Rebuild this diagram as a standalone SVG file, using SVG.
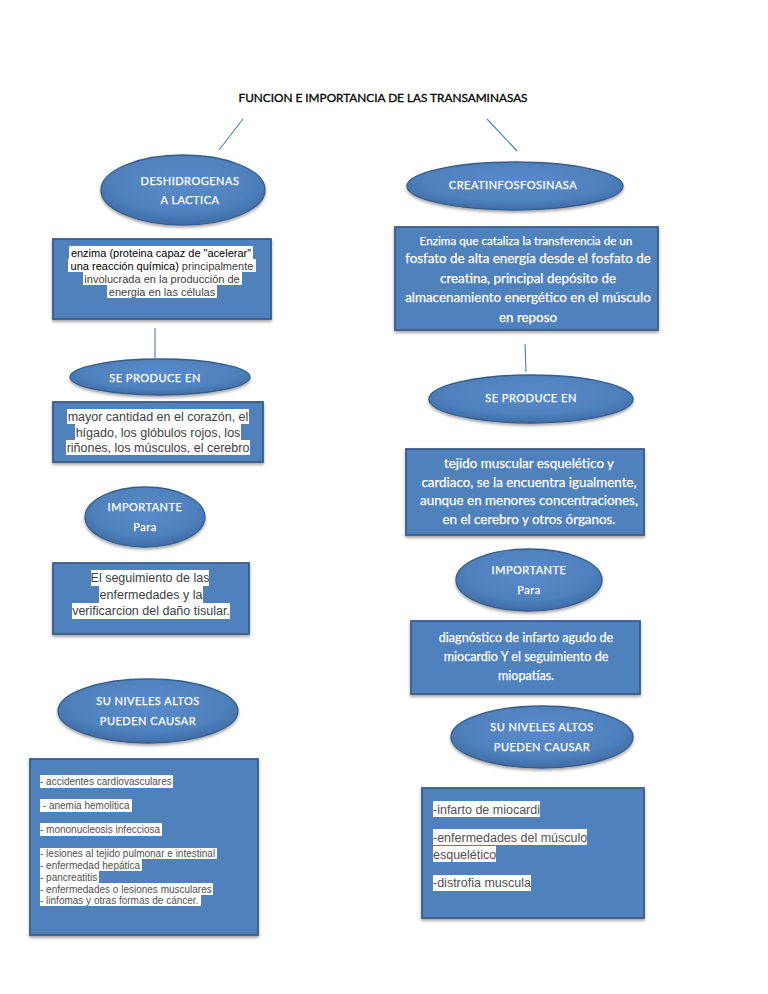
<svg xmlns="http://www.w3.org/2000/svg" width="768" height="994" viewBox="0 0 768 994">
<defs>
<radialGradient id="eg" cx="50%" cy="40%" r="60%">
<stop offset="0" stop-color="#5A8ACB"/>
<stop offset="0.7" stop-color="#4F81BD"/>
<stop offset="1" stop-color="#3F6DA8"/>
</radialGradient>
<filter id="sh" x="-10%" y="-10%" width="120%" height="130%">
<feDropShadow dx="0" dy="2" stdDeviation="1.5" flood-color="#000" flood-opacity="0.35"/>
</filter>
<style>
.ell{fill:url(#eg);stroke:#385D8A;stroke-width:1.3;filter:url(#sh)}
.box{fill:#4F81BD;stroke:#385D8A;stroke-width:1.8;filter:url(#sh)}
.conn{stroke:#4A7EBB;stroke-width:1.1;fill:none}
.et{font-family:Lato,"Open Sans",sans-serif;font-size:11px;fill:#fff;text-anchor:middle;letter-spacing:0.5px;stroke:#fff;stroke-width:0.25}
.rt{font-family:Lato,"Open Sans",sans-serif;fill:#fff;text-anchor:middle;stroke:#fff;stroke-width:0.25}
.lt{font-family:"Liberation Sans",Arial,sans-serif;fill:#404040;text-anchor:middle}
.ll{font-family:"Liberation Sans",Arial,sans-serif;fill:#505050}
.hl{fill:#fff}
.title{font-family:Lato,"Open Sans",sans-serif;font-size:11.8px;fill:#000;text-anchor:middle;stroke:#000;stroke-width:0.3}
</style>
</defs>
<rect width="768" height="994" fill="#fff"/>

<text class="title" x="383" y="102">FUNCION E IMPORTANCIA DE LAS TRANSAMINASAS</text>

<g id="connectors">
<line class="conn" x1="243" y1="119" x2="219" y2="150"/>
<line class="conn" x1="487" y1="119" x2="517" y2="151"/>
<line class="conn" x1="155" y1="328" x2="155" y2="358"/>
<line class="conn" x1="525" y1="344" x2="526" y2="372"/>
</g>

<g id="deshidrogenas">
<ellipse class="ell" cx="183" cy="190" rx="82" ry="35"/>
<text class="et" x="190" y="185">DESHIDROGENAS</text>
<text class="et" x="190" y="204">A LACTICA</text>
</g>

<g id="creatinfosfosinasa">
<ellipse class="ell" cx="515" cy="186" rx="108" ry="24"/>
<text class="et" x="513" y="189">CREATINFOSFOSINASA</text>
</g>

<g id="left-def">
<rect class="box" x="53" y="239" width="218" height="80"/>
<rect class="hl" x="69" y="246" width="184" height="13"/>
<rect class="hl" x="68" y="259" width="188" height="13"/>
<rect class="hl" x="83" y="272" width="159" height="13"/>
<rect class="hl" x="107" y="285" width="110" height="13"/>
<text class="lt" font-size="11" x="161" y="257"><tspan fill="#000">enzima (proteina capaz de "acelerar"</tspan></text>
<text class="lt" font-size="11" x="162" y="270"><tspan fill="#000">una reacción química)</tspan> principalmente</text>
<text class="lt" font-size="11" x="162" y="283">involucrada en la producción de</text>
<text class="lt" font-size="11" x="162" y="296">energia en las células</text>
</g>

<g id="left-se-produce">
<ellipse class="ell" cx="160" cy="377" rx="90" ry="18"/>
<text class="et" x="155" y="382">SE PRODUCE EN</text>
</g>

<g id="left-lugar">
<rect class="box" x="53" y="402" width="210" height="60"/>
<rect class="hl" x="67" y="409" width="182" height="15"/>
<rect class="hl" x="75" y="424" width="166" height="16"/>
<rect class="hl" x="66" y="440" width="184" height="15"/>
<text class="lt" font-size="12.5" x="158" y="421">mayor cantidad en el corazón, el</text>
<text class="lt" font-size="12.5" x="158" y="437">hígado, los glóbulos rojos, los</text>
<text class="lt" font-size="12.5" x="158" y="452">riñones, los músculos, el cerebro</text>
</g>

<g id="left-importante">
<ellipse class="ell" cx="145" cy="517" rx="60" ry="30"/>
<text class="et" x="145" y="511">IMPORTANTE</text>
<text class="et" x="145" y="531">Para</text>
</g>

<g id="left-seguimiento">
<rect class="box" x="53" y="563" width="196" height="71"/>
<rect class="hl" x="91" y="570" width="118" height="16"/>
<rect class="hl" x="99" y="586" width="104" height="17"/>
<rect class="hl" x="72" y="603" width="158" height="16"/>
<text class="lt" font-size="12.5" x="150" y="582">El seguimiento de las</text>
<text class="lt" font-size="12.5" x="151" y="599">enfermedades y la</text>
<text class="lt" font-size="12.5" x="151" y="615">verificarcion del daño tisular.</text>
</g>

<g id="left-niveles">
<ellipse class="ell" cx="148" cy="711" rx="90" ry="32"/>
<text class="et" x="148" y="705">SU NIVELES ALTOS</text>
<text class="et" x="148" y="725">PUEDEN CAUSAR</text>
</g>

<g id="left-causas">
<rect class="box" x="30" y="759" width="228" height="176"/>
<rect class="hl" x="40" y="775" width="133" height="13"/>
<rect class="hl" x="40" y="799" width="92" height="13"/>
<rect class="hl" x="40" y="823" width="122" height="13"/>
<rect class="hl" x="40" y="848" width="177" height="11"/>
<rect class="hl" x="40" y="859" width="102" height="12"/>
<rect class="hl" x="40" y="871" width="59" height="12"/>
<rect class="hl" x="40" y="883" width="173" height="12"/>
<rect class="hl" x="40" y="895" width="161" height="11"/>
<text class="ll" font-size="10"><tspan x="40" y="785">- accidentes cardiovasculares</tspan><tspan x="40" y="809"> - anemia hemolitica</tspan><tspan x="40" y="833">- mononucleosis infecciosa</tspan><tspan x="40" y="857">- lesiones al tejido pulmonar e intestinal</tspan><tspan x="40" y="868.5">- enfermedad hepática</tspan><tspan x="40" y="880.5">- pancreatitis</tspan><tspan x="40" y="892.5">- enfermedades o lesiones musculares</tspan><tspan x="40" y="904">- linfomas y otras formas de cáncer.</tspan></text>
</g>

<g id="right-def">
<rect class="box" x="395" y="227" width="263" height="103"/>
<text class="rt" font-size="11.7" x="526" y="245">Enzima que cataliza la transferencia de un</text>
<text class="rt" font-size="13.4" x="528" y="263">fosfato de alta energía desde el fosfato de</text>
<text class="rt" font-size="13.4" x="528" y="283">creatina, principal depósito de</text>
<text class="rt" font-size="13.4" x="528" y="302">almacenamiento energético en el músculo</text>
<text class="rt" font-size="13.4" x="528" y="322">en reposo</text>
</g>

<g id="right-se-produce">
<ellipse class="ell" cx="531" cy="399" rx="102" ry="24"/>
<text class="et" x="531" y="402">SE PRODUCE EN</text>
</g>

<g id="right-lugar">
<rect class="box" x="406" y="449" width="238" height="86"/>
<text class="rt" font-size="13.4" x="529" y="468">tejido muscular esquelético y</text>
<text class="rt" font-size="13.4" x="529" y="487">cardiaco, se la encuentra igualmente,</text>
<text class="rt" font-size="13.4" x="529" y="505">aunque en menores concentraciones,</text>
<text class="rt" font-size="13.4" x="529" y="524">en el cerebro y otros órganos.</text>
</g>

<g id="right-importante">
<ellipse class="ell" cx="529" cy="580" rx="73" ry="31"/>
<text class="et" x="529" y="574">IMPORTANTE</text>
<text class="et" x="529" y="594">Para</text>
</g>

<g id="right-diagnostico">
<rect class="box" x="411" y="621" width="229" height="73"/>
<text class="rt" font-size="12.6" x="526" y="642">diagnóstico de infarto agudo de</text>
<text class="rt" font-size="12.6" x="526" y="661">miocardio Y el seguimiento de</text>
<text class="rt" font-size="12.6" x="526" y="680">miopatías.</text>
</g>

<g id="right-niveles">
<ellipse class="ell" cx="542" cy="737" rx="91" ry="31"/>
<text class="et" x="542" y="731">SU NIVELES ALTOS</text>
<text class="et" x="542" y="751">PUEDEN CAUSAR</text>
</g>

<g id="right-causas">
<rect class="box" x="422" y="788" width="222" height="130"/>
<rect class="hl" x="433" y="801" width="107" height="16"/>
<rect class="hl" x="433" y="829" width="154" height="16"/>
<rect class="hl" x="433" y="846" width="63" height="16"/>
<rect class="hl" x="433" y="875" width="98" height="16"/>
<text class="ll" font-size="12.5"><tspan x="433" y="813.5">-infarto de miocardi</tspan><tspan x="433" y="841.5">-enfermedades del músculo</tspan><tspan x="433" y="858.5">esquelético</tspan><tspan x="433" y="887">-distrofia muscula</tspan></text>
</g>
</svg>
